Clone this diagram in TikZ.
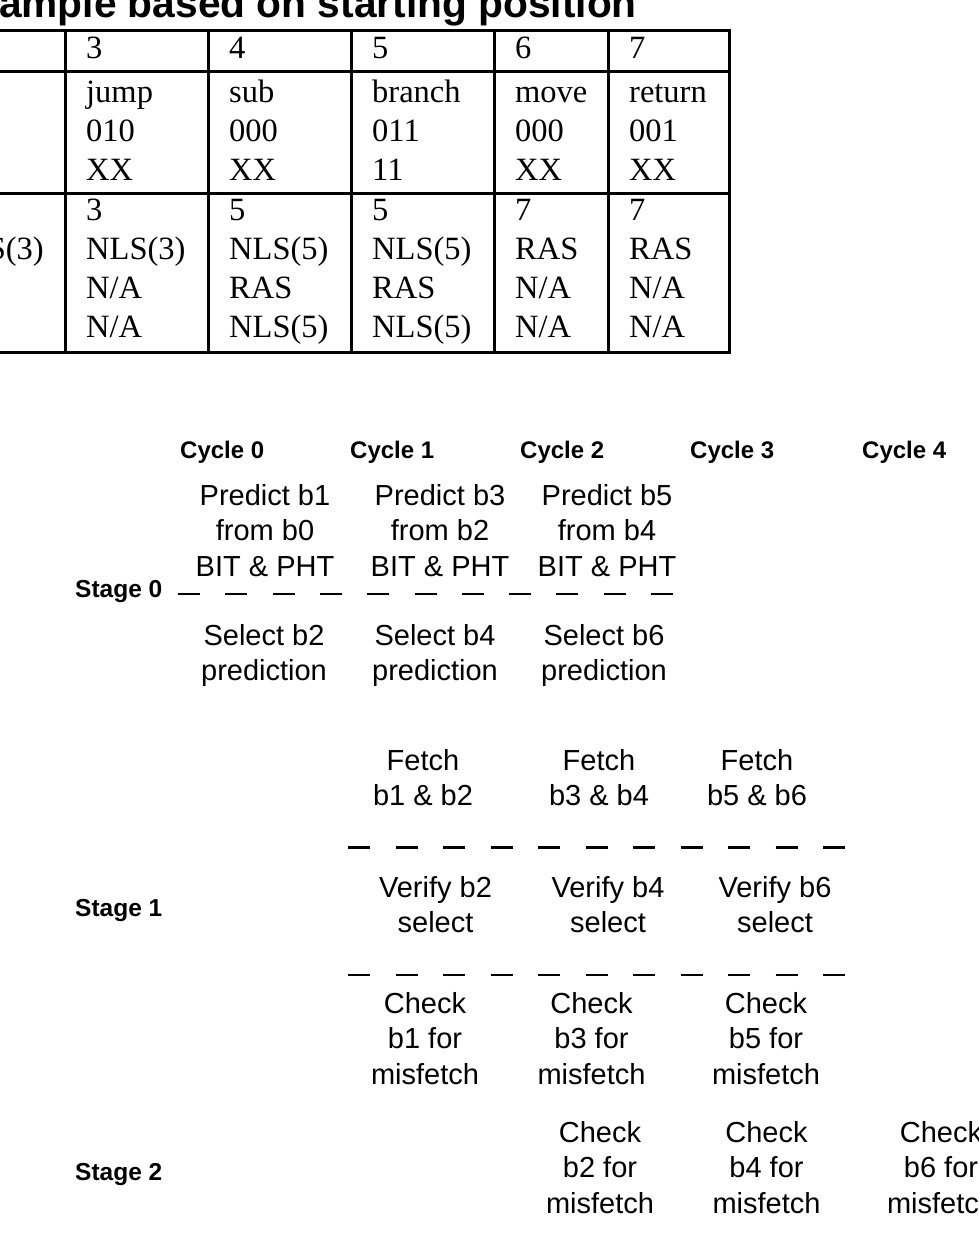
\documentclass[tikz,border=0pt]{standalone}
\usepackage{fontspec}
\setmainfont{Liberation Serif}
\newfontfamily\arialf{Liberation Sans}
\begin{document}
\begin{tikzpicture}[x=1pt,y=-1pt,
  tbl/.style={line width=3pt},
  tcell/.style={anchor=base west,inner sep=0pt,align=left,font=\fontsize{32.5}{39}\selectfont},
  body/.style={anchor=base,inner sep=0pt,align=center,font=\arialf\fontsize{29}{35.5}\selectfont},
  cyc/.style={anchor=base west,inner sep=0pt,font=\arialf\bfseries\fontsize{24}{28}\selectfont},
  stg/.style={anchor=base west,inner sep=0pt,font=\arialf\bfseries\fontsize{24.5}{28}\selectfont},
  dsh/.style={dash pattern=on 22pt off 25.3pt,line width=2pt},
]
\fill[white] (0,0) rectangle (978,1244);
\useasboundingbox (0,0) rectangle (978,1244);
% title
\node[anchor=base east,inner sep=0pt,font=\arialf\bfseries\fontsize{40.7}{48}\selectfont] (title) at (637,18) {ample based on starting position};
% table grid
\foreach \yy in {31,72,193,352} \draw[tbl] (-5,\yy) -- (730.5,\yy);
\foreach \xx in {65,208,351,494,608,729} \draw[tbl] (\xx,29.5) -- (\xx,353.5);
% header row
\node[tcell] (h3) at (86,58.5) {3};
\node[tcell] (h4) at (229,58.5) {4};
\node[tcell] (h5) at (372,58.5) {5};
\node[tcell] (h6) at (515,58.5) {6};
\node[tcell] (h7) at (629,58.5) {7};
% instruction rows (anchor = last line baseline)
\node[tcell] (i3) at (86,180) {jump\\010\\XX};
\node[tcell] (i4) at (229,180) {sub\\000\\XX};
\node[tcell] (i5) at (372,180) {branch\\011\\11};
\node[tcell] (i6) at (515,180) {move\\000\\XX};
\node[tcell] (i7) at (629,180) {return\\001\\XX};
% prediction rows
\node[tcell,anchor=base east] (n2) at (44,259) {S(3)};
\node[tcell] (n3) at (86,337.5) {3\\NLS(3)\\N/A\\N/A};
\node[tcell] (n4) at (229,337.5) {5\\NLS(5)\\RAS\\NLS(5)};
\node[tcell] (n5) at (372,337.5) {5\\NLS(5)\\RAS\\NLS(5)};
\node[tcell] (n6) at (515,337.5) {7\\RAS\\N/A\\N/A};
\node[tcell] (n7) at (629,337.5) {7\\RAS\\N/A\\N/A};
% cycles
\node[cyc] (cy0) at (180,458) {Cycle 0};
\node[cyc] (cy1) at (350,458) {Cycle 1};
\node[cyc] (cy2) at (520,458) {Cycle 2};
\node[cyc] (cy3) at (690,458) {Cycle 3};
\node[cyc] (cy4) at (862,458) {Cycle 4};
% stages
\node[stg] (st0) at (75,597) {Stage 0};
\node[stg] (st1) at (75,916) {Stage 1};
\node[stg] (st2) at (75,1180) {Stage 2};
% stage 0 (anchor = last line baseline)
\node[body] (p1) at (265,576) {Predict b1\\from b0\\BIT \& PHT};
\node[body] (p3) at (440,576) {Predict b3\\from b2\\BIT \& PHT};
\node[body] (p5) at (607,576) {Predict b5\\from b4\\BIT \& PHT};
\node[body] (s2) at (264,680.5) {Select b2\\prediction};
\node[body] (s4) at (435,680.5) {Select b4\\prediction};
\node[body] (s6) at (604,680.5) {Select b6\\prediction};
% stage 1
\node[body] (f12) at (423,805.5) {Fetch\\b1 \& b2};
\node[body] (f34) at (599,805.5) {Fetch\\b3 \& b4};
\node[body] (f56) at (757,805.5) {Fetch\\b5 \& b6};
\node[body] (v2) at (435.5,932.5) {Verify b2\\select};
\node[body] (v4) at (608,932.5) {Verify b4\\select};
\node[body] (v6) at (775,932.5) {Verify b6\\select};
\node[body] (c1) at (425,1084) {Check\\b1 for\\misfetch};
\node[body] (c3) at (591.5,1084) {Check\\b3 for\\misfetch};
\node[body] (c5) at (766,1084) {Check\\b5 for\\misfetch};
% stage 2
\node[body] (c2) at (600,1213) {Check\\b2 for\\misfetch};
\node[body] (c4) at (766.5,1213) {Check\\b4 for\\misfetch};
\node[body] (c6) at (941,1213) {Check\\b6 for\\misfetch};
% dashed separators
\coordinate (d0a) at (178,594);
\coordinate (d0b) at (673,594);
\coordinate (d1a) at (348,847);
\coordinate (d1b) at (845,847);
\coordinate (d2a) at (348,975);
\coordinate (d2b) at (845,975);
\draw[dsh] (d0a) -- (d0b);
\draw[dsh,line width=3pt,dash pattern=on 22pt off 25.5pt] (d1a) -- (d1b);
\draw[dsh,dash pattern=on 22pt off 25.5pt] (d2a) -- (d2b);
\end{tikzpicture}
\end{document}
